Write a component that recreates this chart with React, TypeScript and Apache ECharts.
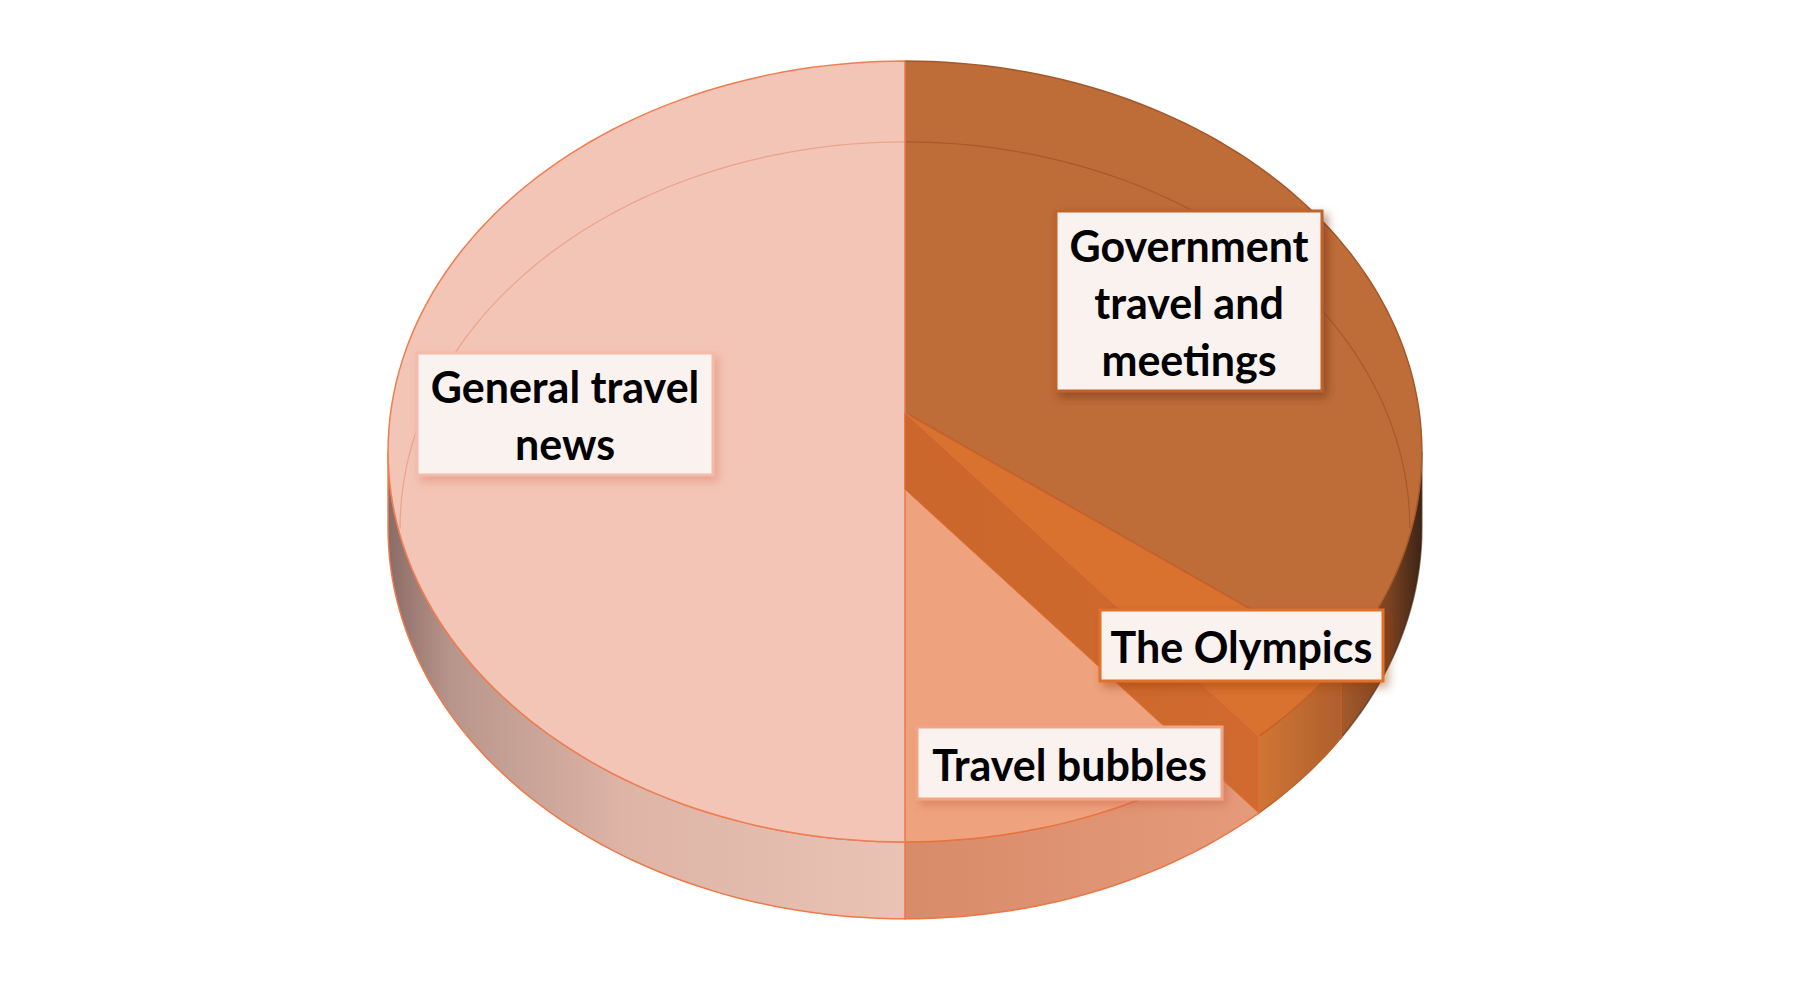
import React, { useEffect, useRef } from "react";
import * as echarts from "echarts";

// ---- data ----
const CATEGORIES = [
  "Government travel and meetings",
  "The Olympics",
  "Travel bubbles",
  "General travel news",
];
const VALUES = [34, 4, 12, 50];
const LABEL_TEXTS = [
  "Government\ntravel and\nmeetings",
  "The Olympics",
  "Travel bubbles",
  "General travel\nnews",
];

// ---- styles ----
const TOP_COLORS = ["#BE6D39", "#D9722F", "#EFA27E", "#F3C5B6"];
const TOP_STROKES = ["#A4582A", "#C8612A", "#E8733F", "#EE7E52"];
const SIDE_STOPS = [
  [
    [0, "#A55A2B"],
    [0.6, "#7A4222"],
    [1, "#3C2416"],
  ],
  [
    [0, "#D07635"],
    [1, "#AE5F2D"],
  ],
  [
    [0, "#D88B69"],
    [1, "#E59B7B"],
  ],
  [
    [0, "#8A6C66"],
    [0.12, "#B8958B"],
    [0.45, "#DDB4A6"],
    [1, "#EAC3B5"],
  ],
];
const SIDE_STROKES = ["rgba(70,35,15,0.6)", "#C0602A", "#EA7745", "#EE7A4A"];
const RING_COLORS = ["rgba(150,75,30,0.55)", "", "", "rgba(230,140,110,0.6)"];
const END_WALL = [false, true, false, false];
const LABEL_BORDER = ["#C0632B", "#E06F2C", "#F2A585", "#F3BBA8"];
const LABEL_SHADOW = [
  "rgba(110,50,15,0.55)",
  "rgba(150,60,15,0.45)",
  "rgba(200,100,70,0.45)",
  "rgba(220,120,90,0.45)",
];
const LABEL_LAYOUT = [
  { x: 1056, y: 211, w: 266, h: 180 },
  { x: 1100, y: 610, w: 283, h: 71 },
  { x: 917, y: 727, w: 305, h: 72 },
  { x: 417, y: 353, w: 296, h: 122 },
];

function geom(W: number, H: number) {
  return {
    cx: W * 0.4986,
    cy: H * 0.4584,
    rx: W * 0.2848,
    ry: H * 0.3964,
    depth: H * 0.078,
    apexDy: -H * 0.0396,
  };
}

function sliceAngles(i: number) {
  const total = VALUES.reduce((a, b) => a + b, 0);
  let cum = 0;
  for (let k = 0; k < i; k++) cum += VALUES[k];
  return [(360 * cum) / total, (360 * (cum + VALUES[i])) / total];
}

function makeRim(g: any, inset = 0, insetY = 0) {
  return (a: number, dz: number) => {
    const r = (a * Math.PI) / 180;
    return [
      g.cx + (g.rx - inset) * Math.sin(r),
      g.cy - (g.ry - insetY) * Math.cos(r) + dz,
    ];
  };
}

function arcPts(rim: any, a0: number, a1: number, dz: number) {
  const n = Math.max(2, Math.ceil(Math.abs(a1 - a0) / 1.5));
  const pts: number[][] = [];
  for (let k = 0; k <= n; k++) pts.push(rim(a0 + ((a1 - a0) * k) / n, dz));
  return pts;
}

const renderSide = (params: any, api: any) => {
  const i = params.dataIndex;
  const g = geom(api.getWidth(), api.getHeight());
  const rim = makeRim(g);
  const [a0, a1] = sliceAngles(i);
  const s = Math.max(a0, 90);
  const e = Math.min(a1, 270);
  if (e <= s) return { type: "group", children: [] };
  const pts = arcPts(rim, s, e, 0).concat(arcPts(rim, e, s, g.depth));
  const xs = pts.map((p) => p[0]);
  const x0 = Math.min(...xs);
  const x1 = Math.max(...xs);
  const stops = SIDE_STOPS[i].map((st: any) => ({ offset: st[0], color: st[1] }));
  return {
    type: "polygon",
    shape: { points: pts },
    style: {
      fill: new echarts.graphic.LinearGradient(x0, 0, x1, 0, stops, true),
      stroke: SIDE_STROKES[i],
      lineWidth: 1.5,
    },
  };
};

const renderTop = (params: any, api: any) => {
  const i = params.dataIndex;
  const g = geom(api.getWidth(), api.getHeight());
  const rim = makeRim(g);
  const ringRim = makeRim(g, 12, 4);
  const [a0, a1] = sliceAngles(i);
  const apex = [g.cx, g.cy + g.apexDy];
  const children: any[] = [
    {
      type: "polygon",
      shape: { points: [apex].concat(arcPts(rim, a0, a1, 0)) },
      style: { fill: TOP_COLORS[i], stroke: TOP_STROKES[i], lineWidth: 1.5 },
    },
  ];
  // bottom face rim seen through the translucent top (back half only)
  if (RING_COLORS[i]) {
    const ranges = [
      [Math.max(a0, 270), Math.min(a1, 360)],
      [Math.max(a0, 0), Math.min(a1, 90)],
    ];
    ranges.forEach(([s, e]) => {
      if (e > s)
        children.push({
          type: "polyline",
          shape: { points: arcPts(ringRim, s, e, g.depth) },
          style: { stroke: RING_COLORS[i], lineWidth: 1.2, fill: "none" },
          silent: true,
        });
    });
  }
  return { type: "group", children };
};

const renderWall = (params: any, api: any) => {
  const i = params.dataIndex;
  if (!END_WALL[i]) return { type: "group", children: [] };
  const g = geom(api.getWidth(), api.getHeight());
  const rim = makeRim(g);
  const [, a1] = sliceAngles(i);
  const apexT = [g.cx, g.cy + g.apexDy];
  const apexB = [g.cx, g.cy + g.apexDy + g.depth];
  return {
    type: "polygon",
    shape: { points: [apexT, rim(a1, 0), rim(a1, g.depth), apexB] },
    style: {
      fill: new echarts.graphic.LinearGradient(
        g.cx,
        0,
        rim(a1, 0)[0],
        0,
        [
          { offset: 0, color: "#CB672C" },
          { offset: 1, color: "#D06A2E" },
        ],
        true
      ),
      stroke: "#E2713A",
      lineWidth: 1,
    },
  };
};

const renderLabel = (params: any, api: any) => {
  const i = params.dataIndex;
  const L = LABEL_LAYOUT[i];
  return {
    type: "group",
    children: [
      {
        type: "rect",
        shape: { x: L.x, y: L.y, width: L.w, height: L.h },
        style: {
          fill: "#FAF2EF",
          stroke: LABEL_BORDER[i],
          lineWidth: 3,
          shadowBlur: 10,
          shadowOffsetX: 4,
          shadowOffsetY: 5,
          shadowColor: LABEL_SHADOW[i],
        },
      },
      {
        type: "text",
        x: L.x + L.w / 2,
        y: L.y + L.h / 2 + 1,
        style: {
          text: LABEL_TEXTS[i],
          fill: "#000000",
          fontFamily: "Lato",
          fontWeight: "bold",
          fontSize: 43,
          lineHeight: 57,
          align: "center",
          verticalAlign: "middle",
        },
      },
    ],
  };
};

export default function App() {
  const ref = useRef<HTMLDivElement>(null);
  useEffect(() => {
    const chart = echarts.init(ref.current as HTMLDivElement, null, { renderer: "svg" });
    const data = VALUES.map((v, i) => ({ name: CATEGORIES[i], value: v }));
    chart.setOption({
      animation: false,
      backgroundColor: "#ffffff",
      series: [
        { type: "custom", coordinateSystem: "none", z: 1, data, renderItem: renderSide },
        { type: "custom", coordinateSystem: "none", z: 2, data, renderItem: renderTop },
        { type: "custom", coordinateSystem: "none", z: 3, data, renderItem: renderWall },
        { type: "custom", coordinateSystem: "none", z: 4, data, renderItem: renderLabel },
      ],
    });
    return () => chart.dispose();
  }, []);
  return (
    <div
      ref={ref}
      style={{ position: "absolute", left: 0, top: 0, width: 1815, height: 985 }}
    />
  );
}
